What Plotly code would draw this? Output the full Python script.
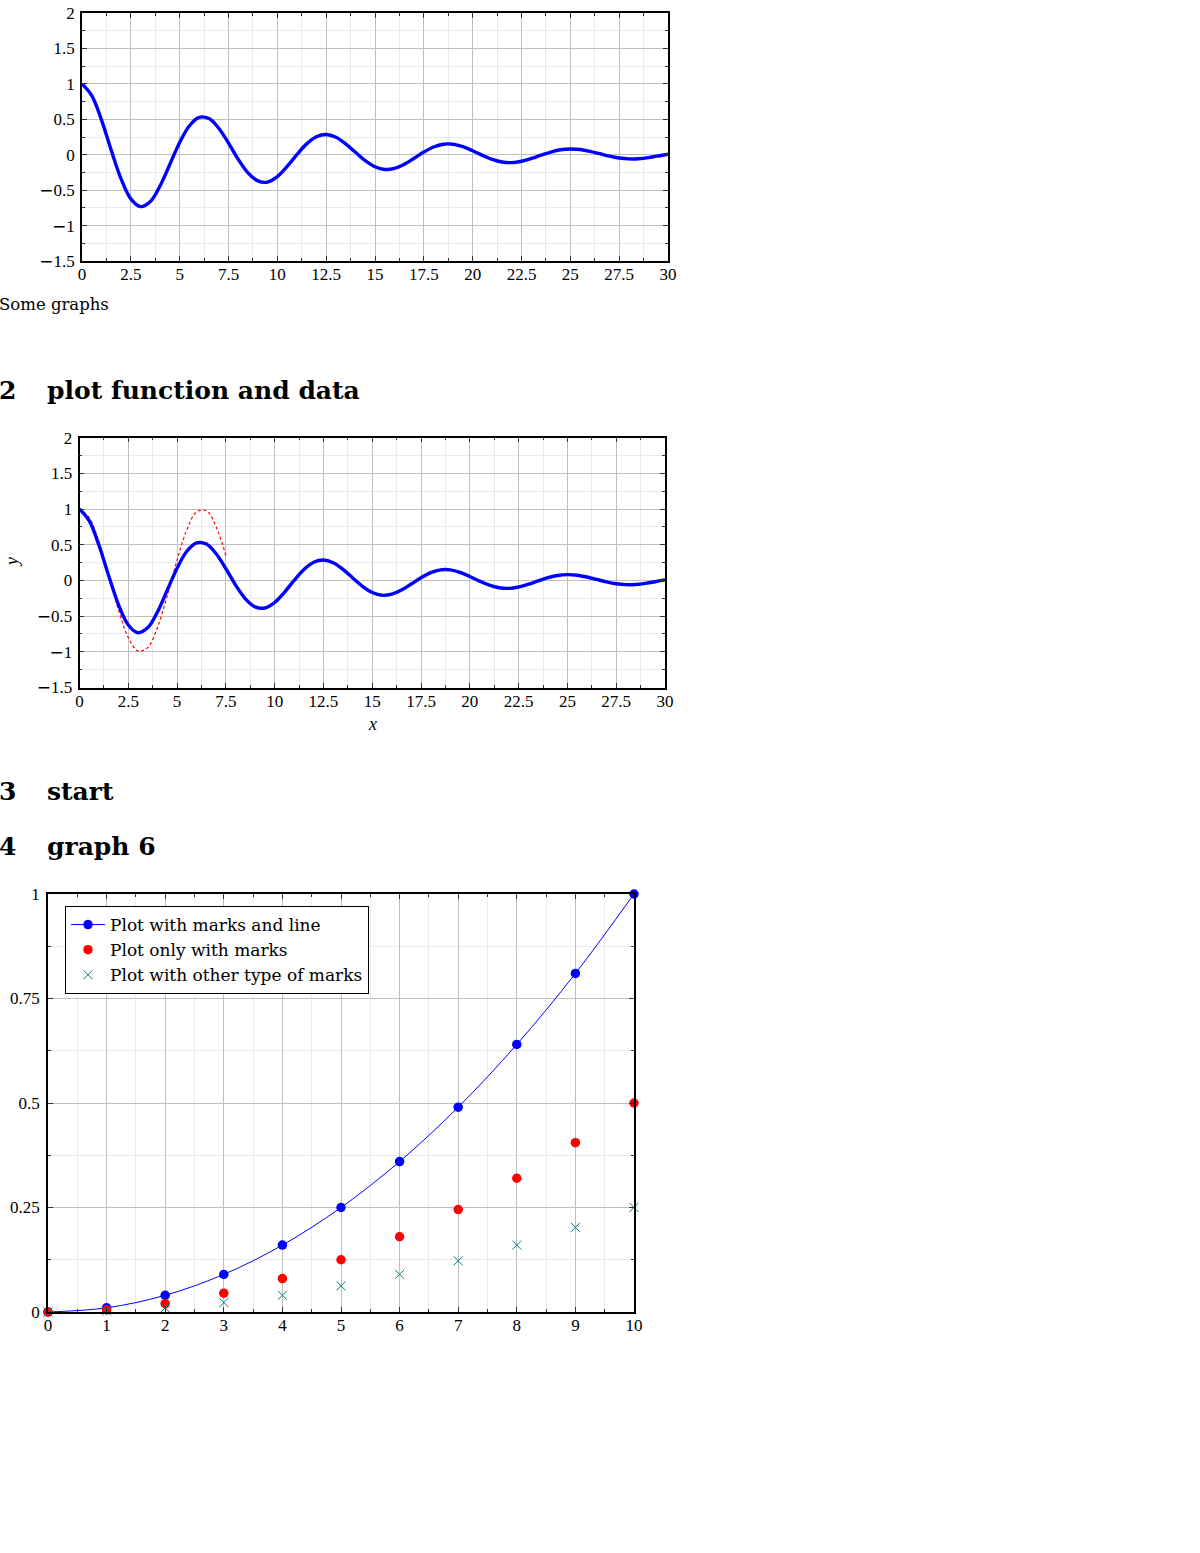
import plotly.graph_objects as go

# ---------------- data ----------------
x_curve = [0, 0.5, 1, 1.5, 2, 2.5, 3, 3.5, 4, 4.5, 5, 5.5, 6, 6.5, 7, 7.5, 8, 8.5, 9, 9.5,
           10, 10.5, 11, 11.5, 12, 12.5, 13, 13.5, 14, 14.5, 15, 15.5, 16, 16.5, 17, 17.5,
           18, 18.5, 19, 19.5, 20, 20.5, 21, 21.5, 22, 22.5, 23, 23.5, 24, 24.5, 25, 25.5,
           26, 26.5, 27, 27.5, 28, 28.5, 29, 29.5, 30]
y_damped = [1.000, 0.835, 0.489, 0.061, -0.341, -0.624, -0.733, -0.660, -0.438, -0.134,
            0.172, 0.409, 0.527, 0.510, 0.374, 0.164, -0.065, -0.257, -0.370, -0.386,
            -0.309, -0.166, 0.001, 0.153, 0.254, 0.286, 0.247, 0.154, 0.034, -0.083,
            -0.169, -0.208, -0.193, -0.135, -0.050, 0.038, 0.109, 0.148, 0.148, 0.113,
            0.055, -0.010, -0.067, -0.103, -0.111, -0.092, -0.053, -0.006, 0.038, 0.070,
            0.081, 0.073, 0.048, 0.014, -0.020, -0.046, -0.059, -0.056, -0.041, -0.018, 0.008]
x_cos = [0, 0.5, 1, 1.5, 2, 2.5, 3, 3.5, 4, 4.5, 5, 5.5, 6, 6.5, 7, 7.5]
y_cos = [1.000, 0.878, 0.540, 0.071, -0.416, -0.801, -0.990, -0.937, -0.654, -0.211,
         0.284, 0.709, 0.960, 0.977, 0.754, 0.347]

x_pts = [0, 1, 2, 3, 4, 5, 6, 7, 8, 9, 10]
y_line = [0, 0.01, 0.04, 0.09, 0.16, 0.25, 0.36, 0.49, 0.64, 0.81, 1.0]
y_marks = [0, 0.005, 0.02, 0.045, 0.08, 0.125, 0.18, 0.245, 0.32, 0.405, 0.5]
y_cross = [0, 0.0025, 0.01, 0.0225, 0.04, 0.0625, 0.09, 0.1225, 0.16, 0.2025, 0.25]

MINUS = "<span style='font-family:DejaVu Sans'>\u2212</span>"
xt_wave = [0, 2.5, 5, 7.5, 10, 12.5, 15, 17.5, 20, 22.5, 25, 27.5, 30]
xt_wave_txt = ["0", "2.5", "5", "7.5", "10", "12.5", "15", "17.5", "20", "22.5", "25", "27.5", "30"]
yt_wave = [-1.5, -1, -0.5, 0, 0.5, 1, 1.5, 2]
yt_wave_txt = [MINUS + "1.5", MINUS + "1", MINUS + "0.5", "0", "0.5", "1", "1.5", "2"]
xt_sq = [0, 1, 2, 3, 4, 5, 6, 7, 8, 9, 10]
xt_sq_txt = ["0", "1", "2", "3", "4", "5", "6", "7", "8", "9", "10"]
yt_sq = [0, 0.25, 0.5, 0.75, 1]
yt_sq_txt = ["0", "0.25", "0.5", "0.75", "1"]

legend_names = ["Plot with marks and line", "Plot only with marks", "Plot with other type of marks"]

# ---------------- layout helpers ----------------
W, H = 1200, 1553
def xd(px):
    return px / W
def yd(py):
    return 1 - py / H

TICKFONT = dict(family="Liberation Serif", size=17, color="black")
MAJ = "rgb(191,191,191)"
MINC = "rgb(234,234,234)"

def axis_common(dom, rng, tv, tt, minor_dtick, anchor, standoff):
    return dict(domain=dom, range=rng, tickmode="array", tickvals=tv, ticktext=tt,
                ticks="inside", ticklen=5, tickwidth=1, tickcolor="rgb(50,50,50)",
                showline=True, linecolor="black", linewidth=1.5, mirror="allticks",
                showgrid=True, gridcolor=MAJ, gridwidth=1, zeroline=False,
                tickfont=TICKFONT, anchor=anchor, fixedrange=True, automargin=False,
                ticklabelstandoff=standoff,
                minor=dict(tickmode="linear", tick0=0, dtick=minor_dtick, ticks="inside",
                           ticklen=3, tickcolor="rgb(50,50,50)", showgrid=True,
                           gridcolor=MINC, gridwidth=1))

fig = go.Figure()

# plot 1
fig.add_trace(go.Scatter(x=x_curve, y=y_damped, mode="lines", line=dict(color="rgb(0,0,255)", width=3.4, shape="spline"),
                         xaxis="x", yaxis="y", showlegend=False))
# plot 2
fig.add_trace(go.Scatter(x=x_cos, y=y_cos, mode="lines", line=dict(color="rgb(255,0,0)", width=1.2, dash="3px,2.5px", shape="spline"),
                         xaxis="x2", yaxis="y2", showlegend=False))
fig.add_trace(go.Scatter(x=x_curve, y=y_damped, mode="lines", line=dict(color="rgb(0,0,255)", width=3.4, shape="spline"),
                         xaxis="x2", yaxis="y2", showlegend=False))
# plot 3
fig.add_trace(go.Scatter(x=x_pts, y=y_line, mode="lines+markers", name=legend_names[0],
                         line=dict(color="rgb(0,0,255)", width=1, shape="spline"),
                         marker=dict(color="rgb(0,0,255)", size=9.5, symbol="circle"),
                         xaxis="x3", yaxis="y3", cliponaxis=False))
fig.add_trace(go.Scatter(x=x_pts, y=y_marks, mode="markers", name=legend_names[1],
                         marker=dict(color="rgb(255,0,0)", size=9.5, symbol="circle"),
                         xaxis="x3", yaxis="y3", cliponaxis=False))
fig.add_trace(go.Scatter(x=x_pts, y=y_cross, mode="markers", name=legend_names[2],
                         marker=dict(color="rgb(0,128,128)", size=9, symbol="x-thin",
                                     line=dict(color="rgb(0,128,128)", width=1)),
                         xaxis="x3", yaxis="y3", cliponaxis=False))

fig.update_layout(
    width=W, height=H, margin=dict(l=0, r=0, t=0, b=0, autoexpand=False),
    paper_bgcolor="white", plot_bgcolor="white",
    xaxis=axis_common([xd(82), xd(668)], [0, 30], xt_wave, xt_wave_txt, 1.25, "y", -3),
    yaxis=axis_common([yd(261), yd(13)], [-1.5, 2], yt_wave, yt_wave_txt, 0.25, "x", 2),
    xaxis2=axis_common([xd(79.5), xd(665)], [0, 30], xt_wave, xt_wave_txt, 1.25, "y2", -3),
    yaxis2=axis_common([yd(687.5), yd(437.7)], [-1.5, 2], yt_wave, yt_wave_txt, 0.25, "x2", 2),
    xaxis3=axis_common([xd(48), xd(634)], [0, 10], xt_sq, xt_sq_txt, 0.5, "y3", -3),
    yaxis3=axis_common([yd(1312), yd(894)], [0, 1], yt_sq, yt_sq_txt, 0.125, "x3", 3),
    legend=dict(x=xd(65), y=yd(906), xanchor="left", yanchor="top",
                bordercolor="black", borderwidth=1, bgcolor="white",
                font=dict(family="DejaVu Serif", size=17, color="black"),
                itemwidth=34, tracegroupgap=0),
    showlegend=True,
)

SERIF = "DejaVu Serif"
annots = [
    dict(text="Some graphs", x=xd(-3), y=yd(305), xanchor="left", yanchor="middle",
         font=dict(family=SERIF, size=16.5, color="black")),
    dict(text="<b>2</b>", x=xd(-3), y=yd(390), xanchor="left", yanchor="middle",
         font=dict(family=SERIF, size=25, color="black")),
    dict(text="<b>plot function and data</b>", x=xd(45), y=yd(390), xanchor="left", yanchor="middle",
         font=dict(family=SERIF, size=25, color="black")),
    dict(text="<b>3</b>", x=xd(-3), y=yd(791), xanchor="left", yanchor="middle",
         font=dict(family=SERIF, size=25, color="black")),
    dict(text="<b>start</b>", x=xd(45), y=yd(791), xanchor="left", yanchor="middle",
         font=dict(family=SERIF, size=25, color="black")),
    dict(text="<b>4</b>", x=xd(-3), y=yd(846), xanchor="left", yanchor="middle",
         font=dict(family=SERIF, size=25, color="black")),
    dict(text="<b>graph 6</b>", x=xd(45), y=yd(846), xanchor="left", yanchor="middle",
         font=dict(family=SERIF, size=25, color="black")),
    dict(text="<i>x</i>", x=xd(372), y=yd(724), xanchor="center", yanchor="middle",
         font=dict(family="Liberation Serif", size=18, color="black")),
    dict(text="<i>y</i>", x=xd(12), y=yd(562), xanchor="center", yanchor="middle", textangle=-90,
         font=dict(family="Liberation Serif", size=18, color="black")),
]
for a in annots:
    a.update(xref="paper", yref="paper", showarrow=False)
fig.update_layout(annotations=annots)

fig.write_html("out.html", config={"displayModeBar": False})
